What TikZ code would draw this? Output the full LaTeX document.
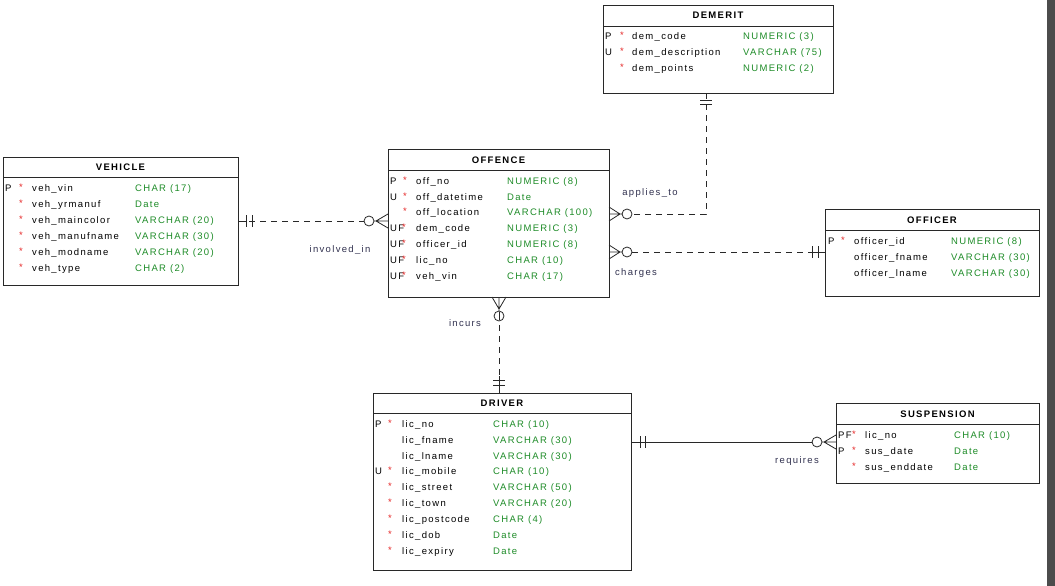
\documentclass[tikz,border=0pt]{standalone}
\usepackage{fontspec}
\setmainfont{Liberation Sans}
\newfontfamily\erfont{Liberation Sans}[LetterSpace=14]
\definecolor{tgreen}{RGB}{30,140,40}
\definecolor{tred}{RGB}{230,40,40}
\definecolor{ln}{RGB}{40,40,40}
\definecolor{lbl}{RGB}{50,50,80}
\newcommand{\erow}[8]{% x-flag, x-star, x-name, x-type, y, flag, name, type
  \node[txt] at (#1,#5) {#6};
  \node[txt,text=tred] at (#2,#5-1) {*};
  \node[txt] at (#3,#5) {#7};
  \node[txt,text=tgreen] at (#4,#5) {#8};}
\newcommand{\etab}[6]{% name, x1,y1,x2,y2, header line y
  \draw[ln,line width=0.9pt] (#2,#3) rectangle (#4,#5);
  \draw[ln,line width=0.7pt] (#2,#6) -- (#4,#6);
  \node[anchor=base,inner sep=0,font=\erfont\fontsize{9.5}{10}\selectfont\bfseries,text=black] at ({(#2+#4)/2},{(#3+#6)/2+3.5}) {#1};}
\begin{document}
\begin{tikzpicture}[x=1pt,y=-1pt,
  txt/.style={anchor=base west,inner sep=0,yshift=-3.5pt,font=\erfont\fontsize{9.5}{10}\selectfont,text=black},
  lab/.style={inner sep=0,font=\erfont\fontsize{9.5}{10}\selectfont,text=lbl},
  rel/.style={ln,line width=0.8pt},
  dsh/.style={rel,dash pattern=on 6pt off 5pt}]
\useasboundingbox (0,0) rectangle (1055,586);
\fill[white] (0,0) rectangle (1055,586);
\fill[black!70] (1047,0) rectangle (1055,586);
% DEMERIT
\etab{DEMERIT}{603}{5}{833}{93}{26}
\coordinate (demB) at (706,93);
\erow{605}{620}{632}{743}{36}{P}{dem\_code}{NUMERIC (3)}
\erow{605}{620}{632}{743}{52}{U}{dem\_description}{VARCHAR (75)}
\erow{605}{620}{632}{743}{68}{}{dem\_points}{NUMERIC (2)}
% VEHICLE
\etab{VEHICLE}{3}{157}{238}{285}{177}
\erow{5}{19}{32}{135}{188}{P}{veh\_vin}{CHAR (17)}
\erow{5}{19}{32}{135}{204}{}{veh\_yrmanuf}{Date}
\erow{5}{19}{32}{135}{220}{}{veh\_maincolor}{VARCHAR (20)}
\erow{5}{19}{32}{135}{236}{}{veh\_manufname}{VARCHAR (30)}
\erow{5}{19}{32}{135}{252}{}{veh\_modname}{VARCHAR (20)}
\erow{5}{19}{32}{135}{268}{}{veh\_type}{CHAR (2)}
% OFFENCE
\etab{OFFENCE}{388}{149}{609}{297}{170}
\erow{390}{403}{416}{507}{181}{P}{off\_no}{NUMERIC (8)}
\erow{390}{403}{416}{507}{197}{U}{off\_datetime}{Date}
\erow{390}{403}{416}{507}{212}{}{off\_location}{VARCHAR (100)}
\erow{390}{402}{416}{507}{228}{UF}{dem\_code}{NUMERIC (3)}
\erow{390}{402}{416}{507}{244}{UF}{officer\_id}{NUMERIC (8)}
\erow{390}{402}{416}{507}{260}{UF}{lic\_no}{CHAR (10)}
\erow{390}{402}{416}{507}{276}{UF}{veh\_vin}{CHAR (17)}
% OFFICER
\etab{OFFICER}{825}{209}{1039}{296}{230}
\erow{828}{841}{854}{951}{241}{P}{officer\_id}{NUMERIC (8)}
\node[txt] at (854,257) {officer\_fname}; \node[txt,text=tgreen] at (951,257) {VARCHAR (30)};
\node[txt] at (854,273) {officer\_lname}; \node[txt,text=tgreen] at (951,273) {VARCHAR (30)};
% DRIVER
\etab{DRIVER}{373}{393}{631}{570}{413}
\erow{375}{388}{402}{493}{424}{P}{lic\_no}{CHAR (10)}
\node[txt] at (402,440) {lic\_fname}; \node[txt,text=tgreen] at (493,440) {VARCHAR (30)};
\node[txt] at (402,456) {lic\_lname}; \node[txt,text=tgreen] at (493,456) {VARCHAR (30)};
\erow{375}{388}{402}{493}{471}{U}{lic\_mobile}{CHAR (10)}
\erow{375}{388}{402}{493}{487}{}{lic\_street}{VARCHAR (50)}
\erow{375}{388}{402}{493}{503}{}{lic\_town}{VARCHAR (20)}
\erow{375}{388}{402}{493}{519}{}{lic\_postcode}{CHAR (4)}
\erow{375}{388}{402}{493}{535}{}{lic\_dob}{Date}
\erow{375}{388}{402}{493}{551}{}{lic\_expiry}{Date}
% SUSPENSION
\etab{SUSPENSION}{836}{403}{1039}{483}{424}
\erow{838}{852}{865}{954}{435}{PF}{lic\_no}{CHAR (10)}
\erow{838}{852}{865}{954}{451}{P}{sus\_date}{Date}
\erow{838}{852}{865}{954}{467}{}{sus\_enddate}{Date}
% ---- relationships
% VEHICLE - OFFENCE
\coordinate (v1) at (238,221); \coordinate (o1) at (388,221);
\draw[dsh] (v1) -- (364,221);
\draw[rel] (238,221) -- (246,221);
\draw[rel] (246,215) -- (246,227) (252,215) -- (252,227);
\draw[rel] (369,221) circle (5);
\draw[rel] (374,221) -- (o1) (376,221) -- (388,214) (376,221) -- (388,228);
\node[lab] at (340,250) {involved\_in};
% DEMERIT - OFFENCE
\coordinate (o2) at (609,214);
\draw[dsh] (demB) -- (706,214) -- (632,214);
\draw[rel] (700,100) -- (712,100) (700,104) -- (712,104);
\draw[rel] (627,214) circle (5);
\draw[rel] (622,214) -- (o2) (620,214) -- (609,207) (620,214) -- (609,221);
\node[lab] at (650,193) {applies\_to};
% OFFICER - OFFENCE
\coordinate (o3) at (609,252); \coordinate (f1) at (825,252);
\draw[dsh] (632,252) -- (f1);
\draw[rel] (812,252) -- (825,252);
\draw[rel] (812,246) -- (812,258) (818,246) -- (818,258);
\draw[rel] (627,252) circle (5);
\draw[rel] (622,252) -- (o3) (620,252) -- (609,245) (620,252) -- (609,259);
\node[lab] at (636,273) {charges};
% OFFENCE - DRIVER
\coordinate (o4) at (499,297); \coordinate (d1) at (499,393);
\draw[dsh] (499,325) -- (d1);
\draw[rel] (499,376) -- (d1);
\draw[rel] (493,380) -- (505,380) (493,385) -- (505,385);
\draw[rel] (499,316) circle (5);
\draw[rel] (499,312) -- (499,320);
\draw[rel] (499,311) -- (o4) (499,309) -- (492,297) (499,309) -- (506,297);
\node[lab] at (465,323) {incurs};
% DRIVER - SUSPENSION
\coordinate (d2) at (631,442); \coordinate (s1) at (836,442);
\draw[rel] (d2) -- (812,442);
\draw[rel] (640,436) -- (640,448) (645,436) -- (645,448);
\draw[rel] (817,442) circle (5);
\draw[rel] (822,442) -- (s1) (824,442) -- (836,435) (824,442) -- (836,449);
\node[lab] at (797,461) {requires};
\end{tikzpicture}
\end{document}
